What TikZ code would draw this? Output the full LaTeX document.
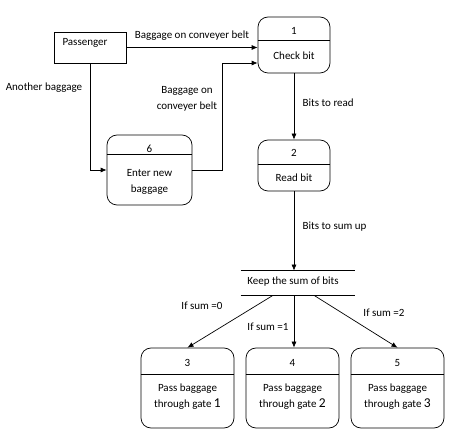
\documentclass[tikz,border=0pt]{standalone}
\usepackage{fontspec}
\setmainfont{Carlito}
\usetikzlibrary{calc,arrows.meta}

\begin{document}
\begin{tikzpicture}[x=1pt,y=-1pt,line width=0.7pt]
\tikzset{proc/.style = {draw,rounded corners=10pt,inner sep=0pt}}
\tikzset{txt/.style = {align=center,font=\fontsize{11}{16}\selectfont}}
\tikzset{flow/.style = {-{Latex[length=6pt,width=5pt]}}}
\useasboundingbox (0,0) rectangle (474,446);
% external entity
\node[draw,minimum width=72pt,minimum height=31pt] (pass) at (90,47.5) {};
\node[txt] at (85,43) {Passenger};
% processes
\node[proc,minimum width=72pt,minimum height=56pt] (b1) at (294,45) {};
\draw ([yshift=-24pt]b1.north west) -- ([yshift=-24pt]b1.north east);
\node[txt] at (294,31) {1};
\node[txt] at (294,56) {Check bit};
\node[proc,minimum width=72pt,minimum height=51pt] (b2) at (294,165.5) {};
\draw ([yshift=-25pt]b2.north west) -- ([yshift=-25pt]b2.north east);
\node[txt] at (294,153) {2};
\node[txt] at (294,178) {Read bit};
\node[proc,minimum width=85pt,minimum height=70pt] (b6) at (149.5,170) {};
\draw ([yshift=-20pt]b6.north west) -- ([yshift=-20pt]b6.north east);
\node[txt] at (149.5,149) {6};
\node[txt] at (149.5,182) {Enter new\\baggage};
% data store
\node[txt,minimum width=114pt,minimum height=24pt] (keep) at (298,283) {};
\node[txt] at (293,282) {Keep the sum of bits};
\draw (keep.north west) -- (keep.north east) (keep.south west) -- (keep.south east);
% gates
\foreach \n/\x in {3/187.5,4/292.5,5/397.5}{
  \pgfmathtruncatemacro{\g}{\n-2}
  \node[proc,minimum width=93pt,minimum height=80pt] (b\n) at (\x,388) {};
  \draw ([yshift=-27pt]b\n.north west) -- ([yshift=-27pt]b\n.north east);
  \node[txt] at (\x,363) {\n};
  \node[txt] at (\x,397) {Pass baggage\\through gate {\fontsize{13.5}{16}\selectfont\g}};
}
\coordinate (turn) at (222,63);
% flows
\draw[flow] (pass.east) -- node[txt,above=3pt] {Baggage on conveyer belt} (pass.east -| b1.west);
\draw[flow] (b6.east) -| (turn) -- (turn -| b1.west);
\draw[flow] (pass.south) |- (b6.west);
\node[txt] at (44,88) {Another baggage};
\node[txt] at (187,99) {Baggage on\\conveyer belt};
\draw[flow] (b1.south) -- node[txt,right,xshift=5pt,pos=0.45] {Bits to read} (b2.north);
\draw[flow] (b2.south) -- node[txt,right,xshift=5pt,pos=0.45] {Bits to sum up} (b2.south |- keep.north);
\draw[flow] ([xshift=-25pt]keep.south) -- (b3.north);
\draw[flow] (b2.south |- keep.south) -- (b2.south |- b4.north);
\draw[flow] ([xshift=16pt]keep.south) -- (b5.north);
\node[txt] at (202,306) {If sum =0};
\node[txt] at (268,327) {If sum =1};
\node[txt] at (384,313) {If sum =2};
\end{tikzpicture}
\end{document}
